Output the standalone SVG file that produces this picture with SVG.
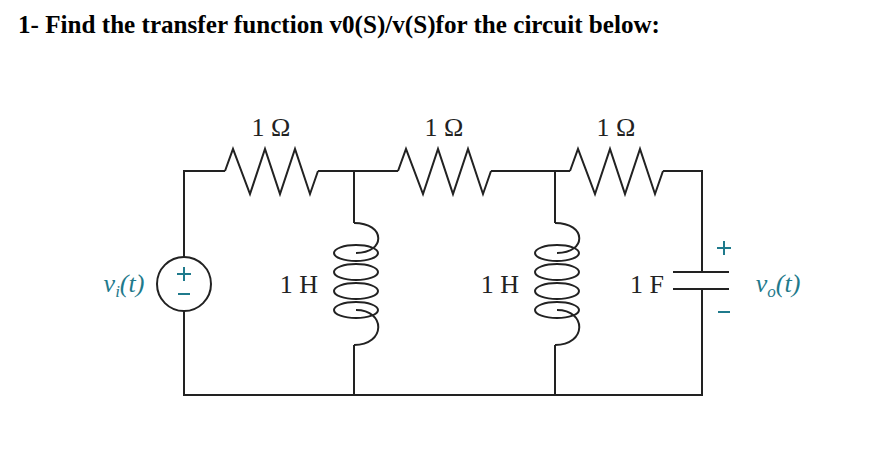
<svg xmlns="http://www.w3.org/2000/svg" width="885" height="460" viewBox="0 0 885 460">
<style>
.w{fill:none;stroke:#222;stroke-width:2}
.t{font-family:"Liberation Serif",serif;font-size:26px;fill:#222}
.b{font-family:"Liberation Serif",serif;font-size:25px;font-weight:bold;fill:#000}
.c{font-family:"Liberation Serif",serif;font-size:26px;fill:#1f7a8c}
</style>
<rect width="885" height="460" fill="#fff"/>
<text class="b" x="18" y="33" textLength="642" lengthAdjust="spacingAndGlyphs">1- Find the transfer function v0(S)/v(S)for the circuit below:</text>
<g id="connectors" class="w">
<path d="M184,257 V171 H225 M318,171 H398 M491,171 H570 M663,171 H702 V272 M702,289 V395 H184 V311"/>
<path d="M354,171 V223 M354,345 V395 M555,171 V223 M555,345 V395"/>
</g>
<g id="vs">
<circle class="w" cx="184" cy="284" r="27"/>
<path d="M177,274 H191 M184,267 V281 M178,294 H190" stroke="#1f7a8c" stroke-width="2"/>
<text class="c" x="124" y="292" text-anchor="middle" font-style="italic">v<tspan font-size="17" dy="5">i</tspan><tspan dy="-5">(t)</tspan></text>
</g>
<g id="r1">
<polyline class="w" points="225,171 233,149 250,194 265,149 280,194 295,149 310,194 318,171"/>
<text class="t" x="271" y="136" text-anchor="middle">1 Ω</text>
</g>
<g id="r2">
<polyline class="w" points="398,171 406,149 423,194 438,149 453,194 468,149 483,194 491,171"/>
<text class="t" x="444" y="136" text-anchor="middle">1 Ω</text>
</g>
<g id="r3">
<polyline class="w" points="570,171 578,149 595,194 610,149 625,194 640,149 655,194 663,171"/>
<text class="t" x="616" y="136" text-anchor="middle">1 Ω</text>
</g>
<g id="l1" class="w">
<path d="M354,223 C386,223 386,253 356,253 M356,310 C386,310 386,345 354,345"/>
<ellipse cx="356" cy="253" rx="22" ry="8"/><ellipse cx="356" cy="272" rx="22" ry="8"/><ellipse cx="356" cy="291" rx="22" ry="8"/><ellipse cx="356" cy="310" rx="22" ry="8"/>
</g>
<text class="t" x="299" y="293" text-anchor="middle">1 H</text>
<g id="l2" class="w">
<path d="M555,223 C587,223 587,253 557,253 M557,310 C587,310 587,345 555,345"/>
<ellipse cx="557" cy="253" rx="22" ry="8"/><ellipse cx="557" cy="272" rx="22" ry="8"/><ellipse cx="557" cy="291" rx="22" ry="8"/><ellipse cx="557" cy="310" rx="22" ry="8"/>
</g>
<text class="t" x="500" y="293" text-anchor="middle">1 H</text>
<g id="c1">
<path class="w" d="M673,272 H729 M673,289 H729"/>
<text class="t" x="647" y="293" text-anchor="middle">1 F</text>
<path d="M717,248 H731 M724,241 V255 M718,312 H730" stroke="#1f7a8c" stroke-width="2"/>
<text class="c" x="778" y="292" text-anchor="middle" font-style="italic">v<tspan font-size="17" dy="5">o</tspan><tspan dy="-5">(t)</tspan></text>
</g>
</svg>
